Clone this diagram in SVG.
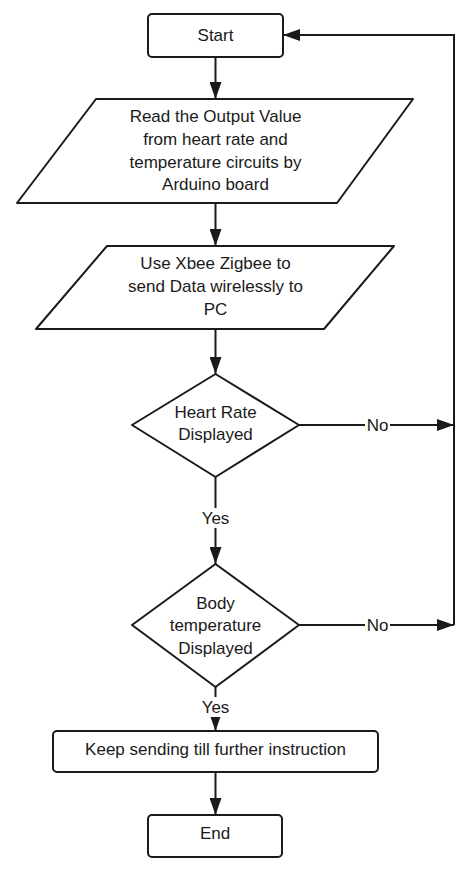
<svg xmlns="http://www.w3.org/2000/svg" width="474" height="869" viewBox="0 0 474 869">
<style>
.shape{fill:#fff;stroke:#1a1a1a;stroke-width:2;stroke-linejoin:round}
.conn{fill:none;stroke:#1a1a1a;stroke-width:2}
text{font-family:"Liberation Sans",Arial,sans-serif;font-size:17px;fill:#1a1a1a;text-anchor:middle}
.lbl{fill:#fff;stroke:none}
</style>
<defs>
<marker id="arr" markerUnits="userSpaceOnUse" markerWidth="18" markerHeight="12" refX="17" refY="6" orient="auto">
<path d="M0,0 L17,6 L0,12 Z" fill="#1a1a1a"/>
</marker>
</defs>
<rect width="474" height="869" fill="#fff"/>
<g id="connectors">
<line class="conn" x1="215.5" y1="57" x2="215.5" y2="99" marker-end="url(#arr)"/>
<line class="conn" x1="215.5" y1="203" x2="215.5" y2="246" marker-end="url(#arr)"/>
<line class="conn" x1="215.5" y1="329" x2="215.5" y2="374" marker-end="url(#arr)"/>
<line class="conn" x1="215.5" y1="477" x2="215.5" y2="564" marker-end="url(#arr)"/>
<line class="conn" x1="215.5" y1="687" x2="215.5" y2="731" marker-end="url(#arr)"/>
<line class="conn" x1="215.5" y1="772" x2="215.5" y2="815" marker-end="url(#arr)"/>
<line class="conn" x1="299" y1="425" x2="454" y2="425" marker-end="url(#arr)"/>
<line class="conn" x1="299" y1="625" x2="454" y2="625" marker-end="url(#arr)"/>
<polyline class="conn" points="454,625 454,35 283,35" marker-end="url(#arr)"/>
<rect class="lbl" x="365" y="416" width="25" height="18"/>
<text x="377.5" y="431">No</text>
<rect class="lbl" x="365" y="616" width="25" height="18"/>
<text x="377.5" y="631">No</text>
<rect class="lbl" x="199" y="508" width="33" height="20"/>
<text x="215.5" y="524">Yes</text>
<rect class="lbl" x="199" y="697" width="33" height="20"/>
<text x="215.5" y="713">Yes</text>
</g>
<g id="start">
<rect class="shape" x="148" y="14" width="135" height="43" rx="4"/>
<text x="215.5" y="41">Start</text>
</g>
<g id="read">
<path class="shape" d="M96,99 L413,99 L337,203 L17,203 Z"/>
<text x="215.5" y="122">Read the Output Value</text>
<text x="215.5" y="145">from heart rate and</text>
<text x="215.5" y="167.5">temperature circuits by</text>
<text x="215.5" y="190">Arduino board</text>
</g>
<g id="send">
<path class="shape" d="M107,246 L394,246 L324,329 L36,329 Z"/>
<text x="215.5" y="269">Use Xbee Zigbee to</text>
<text x="215.5" y="292">send Data wirelessly to</text>
<text x="215.5" y="315">PC</text>
</g>
<g id="heart">
<path class="shape" d="M215.5,374 L299,425 L215.5,477 L132,425 Z"/>
<text x="215.5" y="418">Heart Rate</text>
<text x="215.5" y="440">Displayed</text>
</g>
<g id="body">
<path class="shape" d="M215.5,564 L299,625 L215.5,687 L132,625 Z"/>
<text x="215.5" y="609">Body</text>
<text x="215.5" y="631">temperature</text>
<text x="215.5" y="654">Displayed</text>
</g>
<g id="keep">
<rect class="shape" x="53" y="731" width="325" height="41" rx="4"/>
<text x="215.5" y="755">Keep sending till further instruction</text>
</g>
<g id="end">
<rect class="shape" x="148" y="815" width="134" height="42" rx="4"/>
<text x="215" y="839">End</text>
</g>
</svg>
